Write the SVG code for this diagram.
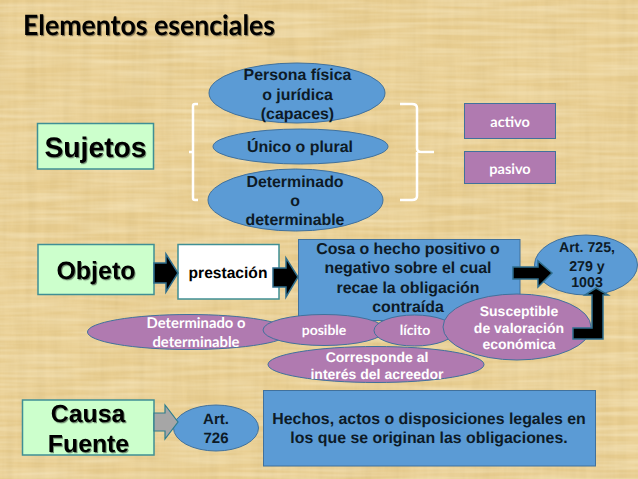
<svg xmlns="http://www.w3.org/2000/svg" width="638" height="479" viewBox="0 0 638 479">
<style>
text{font-family:"Liberation Sans",Arial,sans-serif;font-weight:700;text-anchor:middle;fill:#0d1a26;text-rendering:geometricPrecision}
.blue{fill:#5B9BD5;stroke:#41719C;stroke-width:1}
.pur{fill:#B07AB0;stroke:#41719C;stroke-width:1}
.green{fill:#CCFFCC;stroke:#3F8F95;stroke-width:1.5}
.white{fill:#fff;stroke:#3F8F95;stroke-width:1.5}
.big{fill:#000;filter:url(#sh)}
.m{font-size:15.900px}
.lat{font-family:Lato,"Liberation Sans",sans-serif;fill:#fff;font-size:14.500px}
.pt{fill:#fff;font-size:14px}
.ar{fill:#000;stroke:#2E6E8E;stroke-width:1.5}
.br{fill:none;stroke:#fff;stroke-width:2.5}
</style>
<defs>
<filter id="sh" x="-10%" y="-10%" width="120%" height="130%"><feDropShadow dx="1" dy="1.2" stdDeviation="0.7" flood-color="#000" flood-opacity="0.45"/></filter>
<filter id="tex" x="0" y="0" width="100%" height="100%">
<feTurbulence type="fractalNoise" baseFrequency="0.11 0.008" numOctaves="3" seed="4"/>
<feColorMatrix values="0 0 0 0 0.70  0 0 0 0 0.52  0 0 0 0 0.22  0.9 0 0 0 -0.27"/>
</filter>
<filter id="tex2" x="0" y="0" width="100%" height="100%">
<feTurbulence type="fractalNoise" baseFrequency="0.012 0.22" numOctaves="2" seed="9"/>
<feColorMatrix values="0 0 0 0 1  0 0 0 0 0.93  0 0 0 0 0.72  0.7 0 0 0 -0.22"/>
</filter>
</defs>
<g id="background">
<rect width="638" height="479" fill="#E9CE91"/>
<rect width="638" height="479" filter="url(#tex)"/>
<rect width="638" height="479" filter="url(#tex2)"/>
</g>
<g id="title"><text x="149" y="35" textLength="252" lengthAdjust="spacingAndGlyphs" style="font-family:Lato,'Liberation Sans',sans-serif;font-size:28px;fill:#000;filter:url(#sh)">Elementos esenciales</text></g>

<g id="sujetos"><rect class="green" x="37.500" y="123.500" width="116" height="45.500"/><text class="big" x="95.500" y="157" style="font-size:28.300px">Sujetos</text></g>
<g id="persona"><ellipse class="blue" cx="297" cy="93" rx="88" ry="30"/><text class="m" x="297.500" y="80">Persona física</text><text class="m" x="297.500" y="100">o jurídica</text><text class="m" x="297.500" y="119">(capaces)</text></g>
<g id="unico"><ellipse class="blue" cx="300.500" cy="146.500" rx="87.500" ry="17.500"/><text class="m" x="300" y="152">Único o plural</text></g>
<g id="determinado"><ellipse class="blue" cx="295.500" cy="200" rx="87.500" ry="31"/><text class="m" x="295" y="187">Determinado</text><text class="m" x="295" y="206">o</text><text class="m" x="295" y="225">determinable</text></g>
<g id="llaves">
<path class="br" d="M198 104H195Q193 104 193 106V198Q193 200 195 200H198M193 152H189"/>
<path class="br" d="M400 104H412Q417 104 417 108V148Q417 152 421 152H434M417 152V196Q417 200 412 200H400"/>
</g>
<g id="activo"><rect class="pur" x="464.500" y="103.500" width="91" height="35"/><text class="lat" x="510" y="127">activo</text></g>
<g id="pasivo"><rect class="pur" x="464.500" y="151.500" width="91" height="32"/><text class="lat" x="510" y="174">pasivo</text></g>

<g id="objeto"><rect class="green" x="38" y="244.500" width="116" height="50"/><text class="big" x="96" y="279" style="font-size:25px">Objeto</text></g>
<g id="prestacion"><rect class="white" x="178" y="244.500" width="101" height="54.500"/><text x="228" y="278" style="font-size:15.600px;fill:#000">prestación</text></g>
<g id="cosa"><rect class="blue" x="298.500" y="239.500" width="221.500" height="81"/><text class="m" x="408" y="254">Cosa o hecho positivo o</text><text class="m" x="408" y="273">negativo sobre el cual</text><text class="m" x="408" y="293">recae la obligación</text><text class="m" x="408" y="312">contraída</text></g>
<g id="art725"><ellipse class="blue" cx="586" cy="265" rx="51.500" ry="30"/><text x="587" y="252" style="font-size:14.200px">Art. 725,</text><text x="587" y="271" style="font-size:14.200px">279 y</text><text x="587" y="287" style="font-size:14.200px">1003</text></g>
<g id="det2"><ellipse class="pur" cx="189" cy="332" rx="101.500" ry="17.500"/><text class="lat" x="196" y="328" style="font-size:14.800px">Determinado o</text><text class="lat" x="196" y="347" style="font-size:14.800px">determinable</text></g>
<g id="posible"><ellipse class="pur" cx="324" cy="330" rx="61" ry="15.500"/><text class="lat" x="324" y="335" style="font-size:14px">posible</text></g>
<g id="licito"><ellipse class="pur" cx="414.500" cy="330.500" rx="40.500" ry="15.500"/><text class="lat" x="415" y="335" style="font-size:14px">lícito</text></g>
<g id="corresponde"><ellipse class="pur" cx="376" cy="364.500" rx="108" ry="18"/><text class="pt" x="377" y="362">Corresponde al</text><text class="pt" x="377" y="379">interés del acreedor</text></g>
<g id="susceptible"><ellipse class="pur" cx="517" cy="327" rx="74" ry="33"/><text class="pt" x="519" y="316">Susceptible</text><text class="pt" x="519" y="333">de valoración</text><text class="pt" x="519" y="349">económica</text></g>

<g id="causa"><rect class="green" x="22.500" y="400" width="131.500" height="55"/><text class="big" x="88" y="422" style="font-size:24.800px">Causa</text><text class="big" x="88.500" y="452" style="font-size:24.800px">Fuente</text></g>
<g id="art726"><ellipse class="blue" cx="216" cy="428" rx="42.500" ry="23"/><text x="216" y="424" style="font-size:15px">Art.</text><text x="216" y="443" style="font-size:15px">726</text></g>
<g id="hechos"><rect class="blue" x="263.500" y="390.500" width="332" height="75.500"/><text class="m" x="429" y="424">Hechos, actos o disposiciones legales en</text><text class="m" x="429" y="443">los que se originan las obligaciones.</text></g>

<g id="connectors">
<path class="ar" d="M154 263H166V254L178 273L166 292V283H154Z"/>
<path class="ar" d="M273 268H286V258L298 277L286 297V287H273Z"/>
<path class="ar" d="M513 267H538V261L552 273L538 287V279H513Z"/>
<path class="ar" d="M573 328H592V295H585L596 288L608 295H603V339H573Z"/>
<path d="M154 413H165V405L178 422L165 439V431H154Z" fill="#A6A6A6" stroke="#2E7E8E" stroke-width="1.200"/>
</g>
</svg>
